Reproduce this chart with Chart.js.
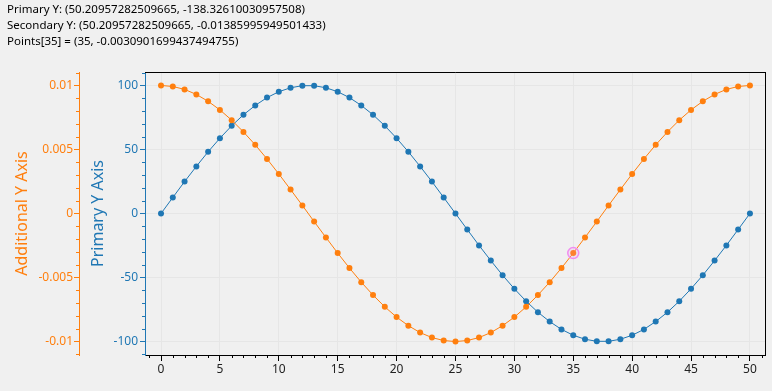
<!DOCTYPE html>
<html><head><meta charset="utf-8">
<script src="https://cdn.jsdelivr.net/npm/chart.js@4/dist/chart.umd.min.js"></script>
<style>
html,body{margin:0;padding:0;background:#f0f0f0;width:772px;height:391px;overflow:hidden}
#wrap{position:absolute;left:0;top:0;width:772px;height:391px}
#hdr{position:absolute;left:7px;top:1px;font-family:"Noto Sans";font-size:11.5px;line-height:16px;color:#000;white-space:pre}
</style></head><body>
<div id="wrap"><canvas id="c" width="772" height="391"></canvas></div>
<div id="hdr"></div>
<script>
const headerLines = [
  "Primary Y: (50.20957282509665, -138.32610030957508)",
  "Secondary Y: (50.20957282509665, -0.01385995949501433)",
  "Points[35] = (35, -0.0030901699437494755)"
];
const xValues = [0,1,2,3,4,5,6,7,8,9,10,11,12,13,14,15,16,17,18,19,20,21,22,23,24,25,26,27,28,29,30,31,32,33,34,35,36,37,38,39,40,41,42,43,44,45,46,47,48,49,50];
const primaryValues = [0,12.5,24.9,36.8,48.2,58.8,68.5,77.1,84.4,90.5,95.1,98.2,99.8,99.8,98.2,95.1,90.5,84.4,77.1,68.5,58.8,48.2,36.8,24.9,12.5,0,-12.5,-24.9,-36.8,-48.2,-58.8,-68.5,-77.1,-84.4,-90.5,-95.1,-98.2,-99.8,-99.8,-98.2,-95.1,-90.5,-84.4,-77.1,-68.5,-58.8,-48.2,-36.8,-24.9,-12.5,0];
const secondaryValues = [0.01,0.00992,0.00969,0.0093,0.00876,0.00809,0.00729,0.00637,0.00536,0.00426,0.00309,0.00187,0.00063,-0.00063,-0.00187,-0.00309,-0.00426,-0.00536,-0.00637,-0.00729,-0.00809,-0.00876,-0.0093,-0.00969,-0.00992,-0.01,-0.00992,-0.00969,-0.0093,-0.00876,-0.00809,-0.00729,-0.00637,-0.00536,-0.00426,-0.00309,-0.00187,-0.00063,0.00063,0.00187,0.00309,0.00426,0.00536,0.00637,0.00729,0.00809,0.00876,0.0093,0.00969,0.00992,0.01];
const highlightIndex = 35;
const xTickLabels = [0,5,10,15,20,25,30,35,40,45,50];
const primaryTickLabels = [-100,-50,0,50,100];
const secondaryTickLabels = ["-0.01","-0.005","0","0.005","0.01"];

document.getElementById('hdr').textContent = headerLines.join("\n");

const BLUE = '#1f77b4', ORANGE = '#ff7f0e', GRID = '#e6e6e6';
Chart.defaults.font.family = '"Noto Sans"';

function isMajorX(v){ return xTickLabels.some(t => Math.abs(t - v) < 1e-9); }
function isMajorP(v){ return primaryTickLabels.some(t => Math.abs(t - v) < 1e-9); }
function isMajorS(v){ return secondaryTickLabels.some(t => Math.abs(parseFloat(t) - v) < 1e-9); }

function stepTicks(from, to, step){
  const out = [];
  const n = Math.round((to - from) / step);
  for (let i = 0; i <= n; i++) out.push({value: +(from + i * step).toFixed(6)});
  return out;
}

const minorTicks = {
  id: 'minorTicks',
  afterDraw(chart){
    const ctx = chart.ctx;
    const defs = [
      {id:'x', major:isMajorX, color:'#000'},
      {id:'y', major:isMajorP, color:BLUE},
      {id:'y2', major:isMajorS, color:ORANGE}
    ];
    ctx.save();
    ctx.lineWidth = 1;
    for (const d of defs){
      const s = chart.scales[d.id];
      ctx.strokeStyle = d.color;
      ctx.beginPath();
      for (const t of s.ticks){
        if (d.major(t.value)) continue;
        const p = Math.round(s.getPixelForValue(t.value)) + 0.5;
        if (d.id === 'x'){
          ctx.moveTo(p, s.top); ctx.lineTo(p, s.top + 3);
        } else {
          ctx.moveTo(s.right, p); ctx.lineTo(s.right - 3, p);
        }
      }
      ctx.stroke();
    }
    const a = chart.chartArea;
    ctx.strokeStyle = '#000';
    ctx.beginPath();
    ctx.moveTo(a.left, a.top + 0.5); ctx.lineTo(a.right + 0.5, a.top + 0.5);
    ctx.moveTo(a.right + 0.5, a.top); ctx.lineTo(a.right + 0.5, a.bottom);
    ctx.stroke();
    ctx.restore();
  }
};

new Chart(document.getElementById('c'), {
  type: 'line',
  data: {
    datasets: [
      {
        label: 'highlight',
        data: [{x: xValues[highlightIndex], y: secondaryValues[highlightIndex]}],
        yAxisID: 'y2',
        showLine: false,
        pointRadius: 5.5,
        pointBorderWidth: 1.5,
        pointBorderColor: '#f08cf0',
        pointBackgroundColor: 'rgba(240,140,240,0.15)',
        order: 0
      },
      {
        label: 'Secondary',
        data: xValues.map((x, i) => ({x, y: secondaryValues[i]})),
        yAxisID: 'y2',
        borderColor: ORANGE,
        backgroundColor: ORANGE,
        borderWidth: 1,
        pointRadius: 3,
        pointBorderWidth: 0,
        tension: 0,
        order: 1
      },
      {
        label: 'Primary',
        data: xValues.map((x, i) => ({x, y: primaryValues[i]})),
        yAxisID: 'y',
        borderColor: BLUE,
        backgroundColor: BLUE,
        borderWidth: 1,
        pointRadius: 3,
        pointBorderWidth: 0,
        tension: 0,
        order: 2
      }
    ]
  },
  options: {
    responsive: false,
    animation: false,
    devicePixelRatio: 1,
    layout: {padding: {top: 72, right: 7, left: 0, bottom: 0}},
    plugins: {legend: {display: false}, tooltip: {enabled: false}},
    events: [],
    scales: {
      x: {
        type: 'linear',
        position: 'bottom',
        min: -1.36, max: 51.28,
        afterBuildTicks: s => { s.ticks = stepTicks(-1, 51, 1); },
        afterFit: s => { s.height = 36; },
        ticks: {
          autoSkip: false, maxRotation: 0, padding: 1,
          color: '#222', font: {size: 12},
          callback: v => isMajorX(v) ? String(Math.round(v)) : ''
        },
        grid: {
          color: c => (c.tick && isMajorX(c.tick.value)) ? GRID : 'rgba(0,0,0,0)',
          tickColor: c => (c.tick && isMajorX(c.tick.value)) ? '#000' : 'rgba(0,0,0,0)',
          tickLength: 6
        },
        border: {color: '#000', width: 1}
      },
      y: {
        type: 'linear',
        position: 'left',
        weight: 0,
        min: -110.5, max: 110.5,
        afterBuildTicks: s => { s.ticks = stepTicks(-110, 110, 10); },
        afterFit: s => { s.width = 66; },
        ticks: {
          autoSkip: false, padding: 2,
          color: BLUE, font: {size: 12},
          callback: v => isMajorP(v) ? String(Math.round(v)) : ''
        },
        grid: {
          color: c => (c.tick && isMajorP(c.tick.value)) ? GRID : 'rgba(0,0,0,0)',
          tickColor: c => (c.tick && isMajorP(c.tick.value)) ? BLUE : 'rgba(0,0,0,0)',
          tickLength: 5
        },
        border: {color: BLUE, width: 1},
        title: {
          display: true, text: 'Primary Y Axis', color: BLUE,
          font: {size: 16}, padding: {top: 9.4, bottom: 0}
        }
      },
      y2: {
        type: 'linear',
        position: 'left',
        weight: 1,
        min: -0.01105, max: 0.01105,
        afterBuildTicks: s => { s.ticks = stepTicks(-0.011, 0.011, 0.001); },
        afterFit: s => { s.width = 79; },
        ticks: {
          autoSkip: false, padding: 1,
          color: ORANGE, font: {size: 12},
          callback: v => {
            const m = secondaryTickLabels.find(t => Math.abs(parseFloat(t) - v) < 1e-9);
            return m !== undefined ? m : '';
          }
        },
        grid: {
          drawOnChartArea: false,
          tickColor: c => (c.tick && isMajorS(c.tick.value)) ? ORANGE : 'rgba(0,0,0,0)',
          tickLength: 5
        },
        border: {color: ORANGE, width: 1},
        title: {
          display: true, text: 'Additional Y Axis', color: ORANGE,
          font: {size: 16}, padding: {top: 12.4, bottom: 0}
        }
      }
    }
  },
  plugins: [minorTicks]
});
</script>
</body></html>
